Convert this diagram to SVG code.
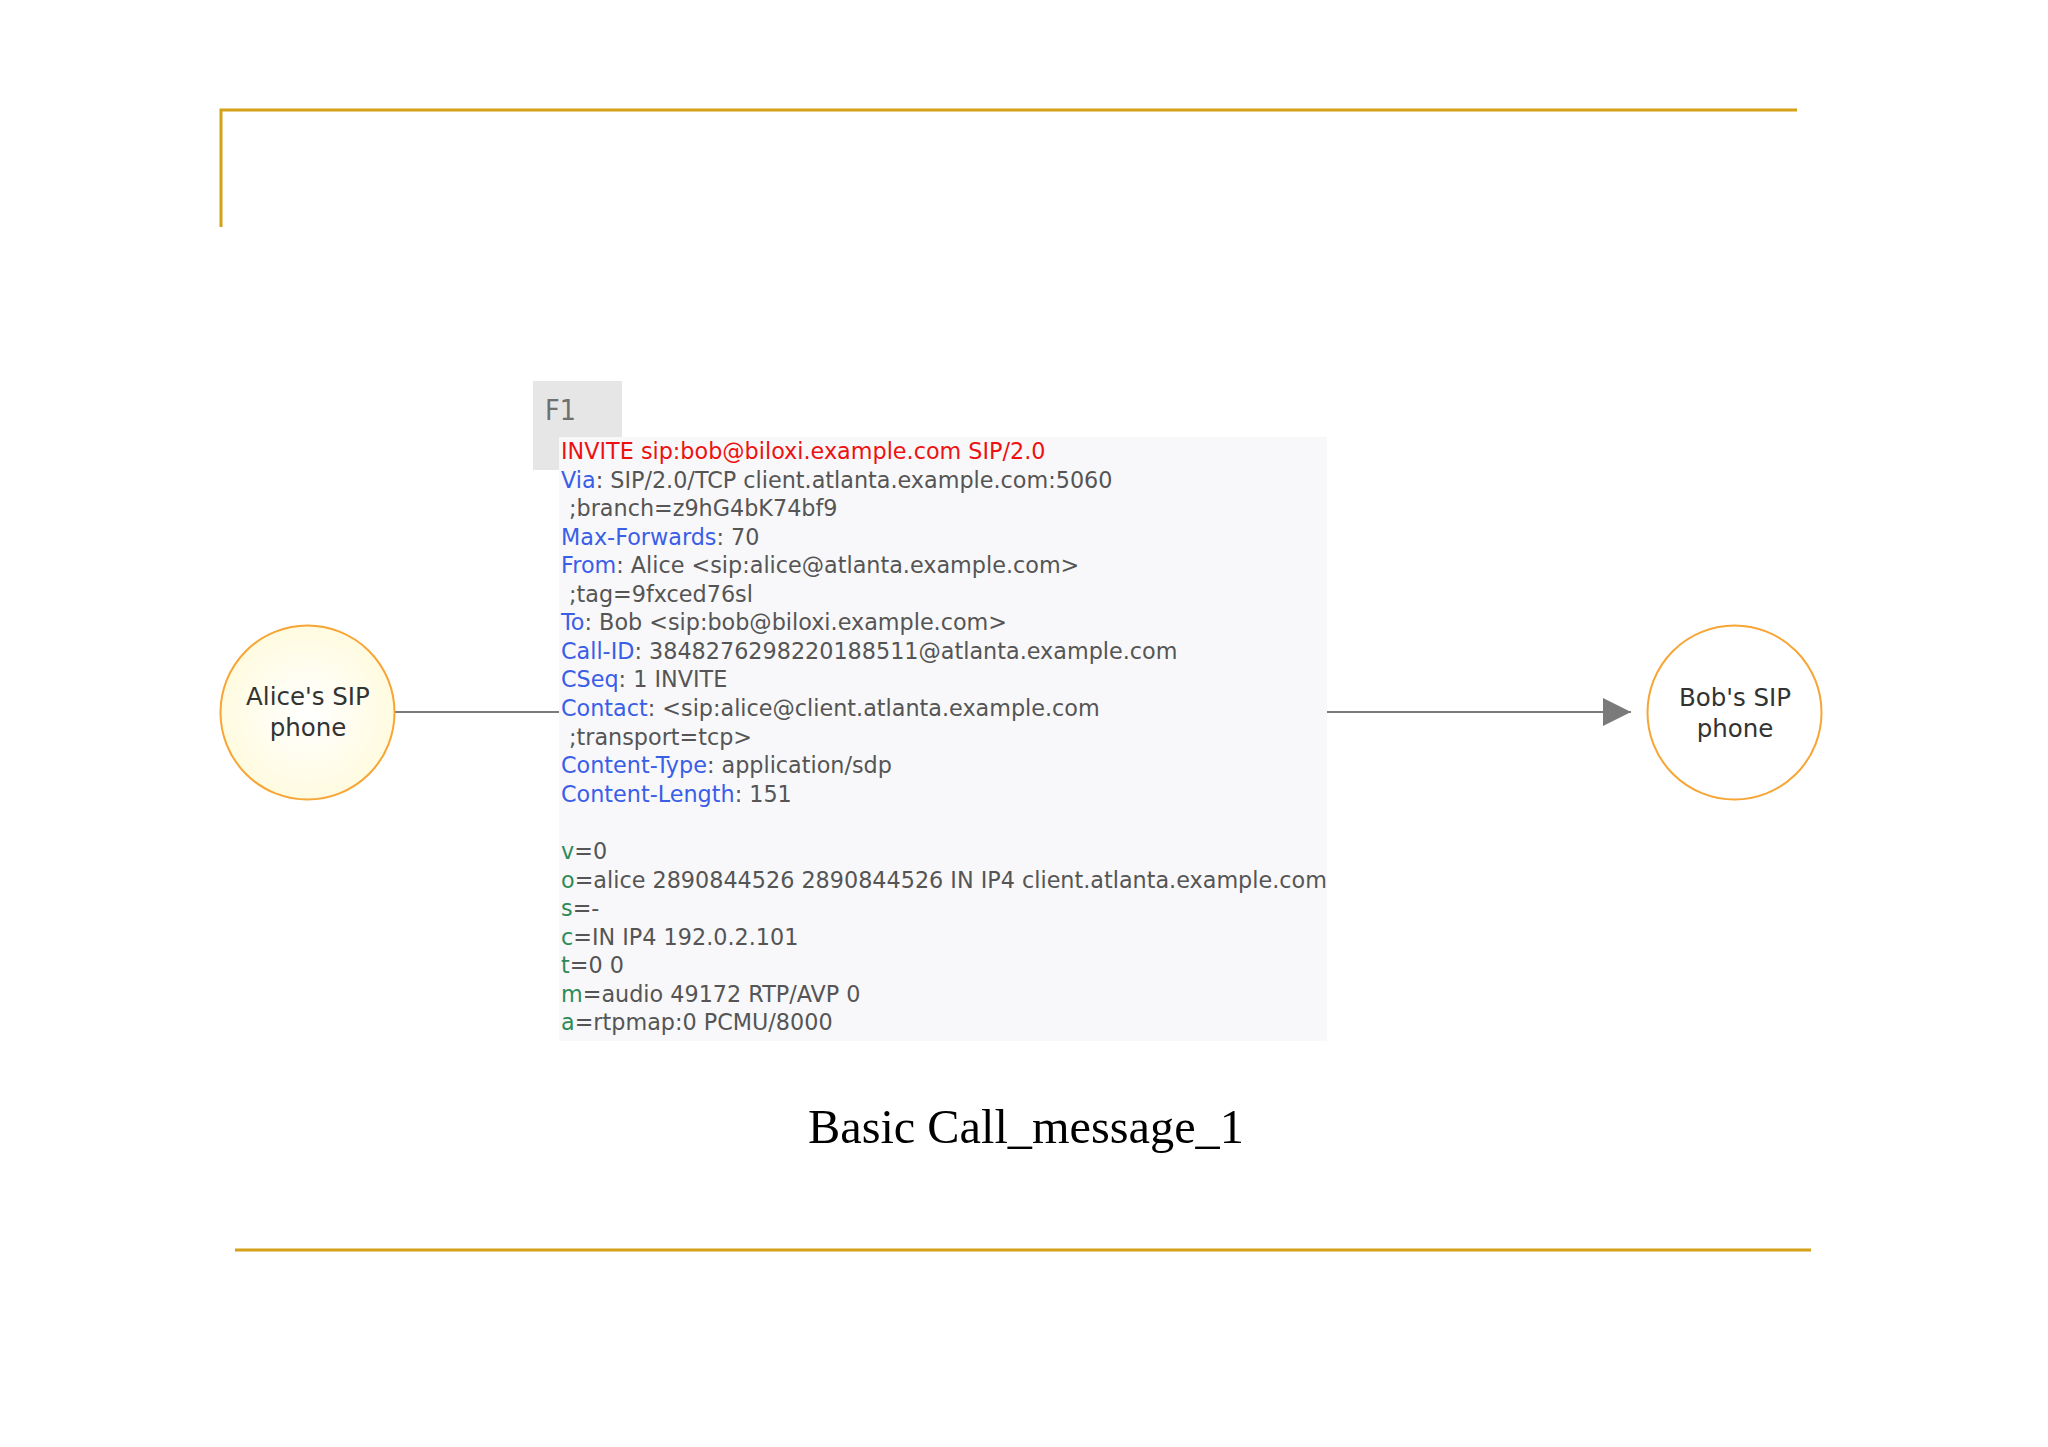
<svg xmlns="http://www.w3.org/2000/svg" width="2048" height="1447" viewBox="0 0 2048 1447">
<defs>
<marker id="arr" markerWidth="28" markerHeight="28" refX="28" refY="14" orient="auto" markerUnits="userSpaceOnUse">
<path d="M0,0 L28,14 L0,28 Z" fill="#7a7a7a"/>
</marker>
<radialGradient id="yel" cx="50%" cy="50%" r="50%">
<stop offset="0%" stop-color="#ffffff"/>
<stop offset="100%" stop-color="#fffbe0"/>
</radialGradient>
<style>
.gold{stroke:#d4a017;stroke-width:3;fill:none}
.node circle{stroke:#f7a535;stroke-width:2}
.nl{font-family:"DejaVu Sans",Verdana,sans-serif;font-size:24.5px;fill:#333333;text-anchor:middle}
.msg{font-family:"DejaVu Sans",Verdana,sans-serif;font-size:22.3px;fill:#555555}
.h{fill:#3a5ee8}
.r{fill:#ee1111}
.g{fill:#2e8b57}
.cap{font-family:"Liberation Serif","Times New Roman",serif;font-size:48.3px;fill:#000}
</style>
</defs>
<rect width="2048" height="1447" fill="#ffffff"/>
<path class="gold" d="M221,227 V110 H1797"/>
<line class="gold" x1="235" y1="1250" x2="1811" y2="1250"/>
<g id="connectors">
<line x1="395" y1="712" x2="1631" y2="712" stroke="#7a7a7a" stroke-width="2" marker-end="url(#arr)"/>
</g>
<g id="alice" class="node">
<circle cx="307.5" cy="712.5" r="87" fill="url(#yel)"/>
<text class="nl" x="308" y="705">Alice's SIP</text>
<text class="nl" x="308" y="736">phone</text>
</g>
<g id="bob" class="node">
<circle cx="1734.5" cy="712.5" r="87" fill="#ffffff"/>
<text class="nl" x="1735" y="706">Bob's SIP</text>
<text class="nl" x="1735" y="737">phone</text>
</g>
<g id="message">
<rect x="533" y="381" width="89" height="89" fill="#e6e6e6"/>
<text x="545" y="420" font-family="DejaVu Sans,sans-serif" font-size="28" fill="#707070" textLength="31" lengthAdjust="spacingAndGlyphs">F1</text>
<rect x="559" y="437" width="768" height="604" fill="#f8f8fa"/>
<g class="msg">
<text x="561" y="459" class="r">INVITE sip:bob@biloxi.example.com SIP/2.0</text>
<text x="561" y="487.5"><tspan class="h">Via</tspan>: SIP/2.0/TCP client.atlanta.example.com:5060</text>
<text x="569" y="516">;branch=z9hG4bK74bf9</text>
<text x="561" y="544.5"><tspan class="h">Max-Forwards</tspan>: 70</text>
<text x="561" y="573"><tspan class="h">From</tspan>: Alice &lt;sip:alice@atlanta.example.com&gt;</text>
<text x="569" y="602">;tag=9fxced76sl</text>
<text x="561" y="630"><tspan class="h">To</tspan>: Bob &lt;sip:bob@biloxi.example.com&gt;</text>
<text x="561" y="659"><tspan class="h">Call-ID</tspan>: 3848276298220188511@atlanta.example.com</text>
<text x="561" y="687"><tspan class="h">CSeq</tspan>: 1 INVITE</text>
<text x="561" y="716"><tspan class="h">Contact</tspan>: &lt;sip:alice@client.atlanta.example.com</text>
<text x="569" y="745">;transport=tcp&gt;</text>
<text x="561" y="773"><tspan class="h">Content-Type</tspan>: application/sdp</text>
<text x="561" y="801.5"><tspan class="h">Content-Length</tspan>: 151</text>
<text x="561" y="859"><tspan class="g">v</tspan>=0</text>
<text x="561" y="887.5"><tspan class="g">o</tspan>=alice 2890844526 2890844526 IN IP4 client.atlanta.example.com</text>
<text x="561" y="916"><tspan class="g">s</tspan>=-</text>
<text x="561" y="944.5"><tspan class="g">c</tspan>=IN IP4 192.0.2.101</text>
<text x="561" y="973"><tspan class="g">t</tspan>=0 0</text>
<text x="561" y="1001.5"><tspan class="g">m</tspan>=audio 49172 RTP/AVP 0</text>
<text x="561" y="1030"><tspan class="g">a</tspan>=rtpmap:0 PCMU/8000</text>
</g>
</g>
<text class="cap" x="808" y="1143">Basic Call_message_1</text>
</svg>
